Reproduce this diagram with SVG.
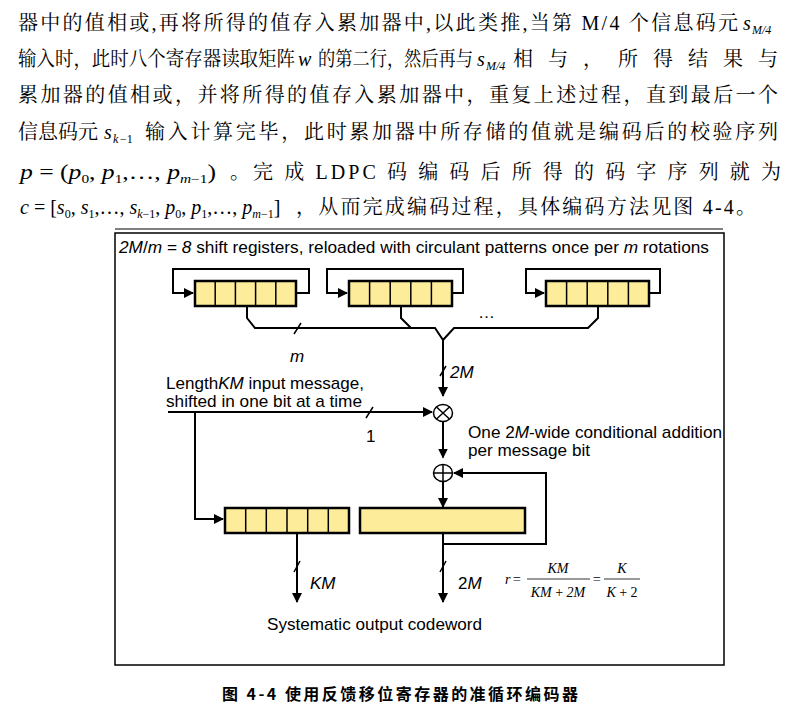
<svg xmlns="http://www.w3.org/2000/svg" width="793" height="709" viewBox="0 0 793 709">
<style>
.b{font-family:"Liberation Serif","Noto Serif CJK SC","Noto Sans CJK SC",serif;font-size:20px;fill:#000}
.m{font-style:italic}
.s{font-size:12px}
.d{font-family:"Liberation Sans",Arial,sans-serif;font-size:17px;fill:#000}
.ln{fill:none;stroke:#000;stroke-width:2}
.reg{fill:#fdec9a;stroke:#000;stroke-width:2.5}
.c{fill:none;stroke:#000;stroke-width:1.5}
.f{font-family:"Liberation Serif",serif;font-size:14px;font-style:italic}
</style>
<defs><marker id="a" viewBox="0 0 10 10" refX="9" refY="5" markerWidth="5" markerHeight="5" orient="auto" markerUnits="strokeWidth"><path d="M0,0L10,5L0,10z"/></marker></defs>
<rect width="793" height="709" fill="#fff"/>
<g id="body">
<text class="b" x="18" y="30" textLength="720" lengthAdjust="spacing">器中的值相或,再将所得的值存入累加器中,以此类推,当第 M/4 个信息码元</text>
<text class="b m" x="743" y="30">s</text><text class="b m s" x="752" y="34">M/4</text>
<text class="b" x="18" y="66" textLength="277" lengthAdjust="spacingAndGlyphs">输入时，此时八个寄存器读取矩阵</text><text class="b m" x="298" y="66">w</text>
<text class="b" x="318" y="66" textLength="155" lengthAdjust="spacingAndGlyphs">的第二行，然后再与</text><text class="b m" x="477" y="66">s</text><text class="b m s" x="486" y="70">M/4</text>
<text class="b" x="513" y="66" textLength="265" lengthAdjust="spacing">相与，所得结果与</text>
<text class="b" x="18" y="102" textLength="760" lengthAdjust="spacing">累加器的值相或，并将所得的值存入累加器中，重复上述过程，直到最后一个</text>
<text class="b" x="18" y="139" textLength="80">信息码元</text><text class="b m" x="104" y="139">s</text><text class="b m s" x="113" y="143">k</text><text class="b s" x="120" y="143">−1</text>
<text class="b" x="145" y="139" textLength="633" lengthAdjust="spacing">输入计算完毕，此时累加器中所存储的值就是编码后的校验序列</text>
<text class="b" x="20" y="179" textLength="196" lengthAdjust="spacingAndGlyphs"><tspan class="m">p</tspan> = (<tspan class="m">p</tspan><tspan class="s" dy="4">0</tspan><tspan dy="-4">, </tspan><tspan class="m">p</tspan><tspan class="s" dy="4">1</tspan><tspan dy="-4">,…, </tspan><tspan class="m">p</tspan><tspan class="s m" dy="4">m</tspan><tspan class="s">−1</tspan><tspan dy="-4">)</tspan></text>
<text class="b" x="230" y="179" textLength="551" lengthAdjust="spacing">。完 成 LDPC 码 编 码 后 所 得 的 码 字 序 列 就 为</text>
<text class="b" x="20" y="214"><tspan class="m">c</tspan> = [<tspan class="m">s</tspan><tspan class="s" dy="4">0</tspan><tspan dy="-4">, </tspan><tspan class="m">s</tspan><tspan class="s" dy="4">1</tspan><tspan dy="-4">,…, </tspan><tspan class="m">s</tspan><tspan class="s m" dy="4">k</tspan><tspan class="s">−1</tspan><tspan dy="-4">, </tspan><tspan class="m">p</tspan><tspan class="s" dy="4">0</tspan><tspan dy="-4">, </tspan><tspan class="m">p</tspan><tspan class="s" dy="4">1</tspan><tspan dy="-4">,…, </tspan><tspan class="m">p</tspan><tspan class="s m" dy="4">m</tspan><tspan class="s">−1</tspan><tspan dy="-4">]</tspan></text>
<text class="b" x="296" y="214" textLength="460" lengthAdjust="spacing">，从而完成编码过程，具体编码方法见图 4-4。</text>
<line x1="115" y1="229" x2="723" y2="229" stroke="#000" stroke-width="1"/>
</g>
<rect x="115" y="233" width="609" height="432" fill="none" stroke="#000" stroke-width="1.5"/>
<text class="d" x="119" y="253" textLength="590" lengthAdjust="spacingAndGlyphs"><tspan font-style="italic">2M</tspan>/<tspan font-style="italic">m</tspan> = <tspan font-style="italic">8</tspan> shift registers, reloaded with circulant patterns once per <tspan font-style="italic">m</tspan> rotations</text>
<g id="reg1"><rect class="reg" x="195" y="281" width="101" height="25"/><path class="c" d="M215.2,281v25M235.4,281v25M255.6,281v25M275.8,281v25"/></g>
<g id="reg2"><rect class="reg" x="349" y="281" width="103" height="25"/><path class="c" d="M369.6,281v25M390.2,281v25M410.8,281v25M431.4,281v25"/></g>
<g id="reg3"><rect class="reg" x="546" y="281" width="103" height="25"/><path class="c" d="M566.6,281v25M587.2,281v25M607.8,281v25M628.4,281v25"/></g>
<g id="msgreg"><rect class="reg" x="225" y="508" width="124" height="25"/><path class="c" d="M245.7,508v25M266.3,508v25M287,508v25M307.7,508v25M328.3,508v25"/></g>
<g id="acc"><rect class="reg" x="360" y="508" width="165" height="25"/></g>
<g id="mult"><ellipse class="c" cx="443" cy="413" rx="9.5" ry="8.5" stroke-width="1.8"/><path class="c" d="M436.5,407l13,12M449.5,407l-13,12"/></g>
<g id="xor"><ellipse class="c" cx="443" cy="473" rx="9.5" ry="8.5" stroke-width="1.8"/><path class="c" d="M433.5,473h19M443,464.5v17"/></g>
<g id="connectors">
<path class="ln" d="M296,293h13v-24h-136v24h20" marker-end="url(#a)"/>
<path class="ln" d="M452,293h11v-24h-136v24h20" marker-end="url(#a)"/>
<path class="ln" d="M649,293h11v-24h-134v24h18" marker-end="url(#a)"/>
<path class="ln" d="M247,306v12l8,10h180l8,12M401,306v12l10,10M598,306v12l-10,10h-134l-11,12"/>
<path class="ln" d="M443,340v56" marker-end="url(#a)"/>
<path class="ln" d="M168,412h264" marker-end="url(#a)"/>
<path class="ln" d="M195,412v107h28" marker-end="url(#a)"/>
<path class="ln" d="M443,421.5v36" marker-end="url(#a)"/>
<path class="ln" d="M443,481.5v25.5" marker-end="url(#a)"/>
<path class="ln" d="M443,533v11h103v-71h-92" marker-end="url(#a)"/>
<path class="ln" d="M443,544v58" marker-end="url(#a)"/>
<path class="ln" d="M297,533v69" marker-end="url(#a)"/>
<path class="c" d="M294,334l7,-11M440,376l6,-10M366,418l7,-11M294,572l6,-11M440,572l6,-11"/>
</g>
<text class="d" x="478" y="318" font-size="18">…</text>
<text class="d" x="290" y="362" font-style="italic">m</text>
<text class="d" x="450" y="378"><tspan font-style="italic">2M</tspan></text>
<text class="d" x="166" y="389" textLength="198" lengthAdjust="spacingAndGlyphs">Length<tspan font-style="italic">KM</tspan> input message,</text>
<text class="d" x="166" y="407" textLength="196" lengthAdjust="spacingAndGlyphs">shifted in one bit at a time</text>
<text class="d" x="366" y="442">1</text>
<text class="d" x="468" y="438" textLength="254" lengthAdjust="spacingAndGlyphs">One 2<tspan font-style="italic">M</tspan>-wide conditional addition</text>
<text class="d" x="468" y="456" textLength="122" lengthAdjust="spacingAndGlyphs">per message bit</text>
<text class="d" x="310" y="589" font-style="italic">KM</text>
<text class="d" x="458" y="589">2<tspan font-style="italic">M</tspan></text>
<text class="d" x="267" y="630" textLength="215" lengthAdjust="spacingAndGlyphs">Systematic output codeword</text>
<g id="formula">
<text class="f" x="505" y="584">r</text><text class="f" x="512" y="584" font-style="normal">=</text>
<text class="f" x="558" y="573" text-anchor="middle">KM</text>
<line x1="527" y1="579" x2="590" y2="579" stroke="#000" stroke-width="0.8"/>
<text class="f" x="558" y="597" text-anchor="middle">KM <tspan font-style="normal">+</tspan> 2M</text>
<text class="f" x="592" y="584" font-style="normal">=</text>
<text class="f" x="622" y="573" text-anchor="middle">K</text>
<line x1="604" y1="579" x2="640" y2="579" stroke="#000" stroke-width="0.8"/>
<text class="f" x="622" y="597" text-anchor="middle">K <tspan font-style="normal">+ 2</tspan></text>
</g>
<text x="222" y="700" font-family="'Noto Sans CJK SC',sans-serif" font-size="16" font-weight="bold" textLength="356" lengthAdjust="spacing">图 4-4 使用反馈移位寄存器的准循环编码器</text>
</svg>
